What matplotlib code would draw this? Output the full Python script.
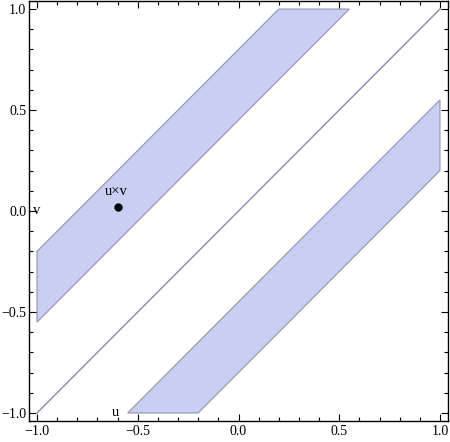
import matplotlib
matplotlib.use("Agg")
import matplotlib.pyplot as plt
import numpy as np

# Data
band1_x = [-1.0, 0.2, 0.55, -1.0]
band1_y = [-0.2, 1.0, 1.0, -0.55]
band2_x = [-0.55, -0.2, 1.0, 1.0]
band2_y = [-1.0, -1.0, 0.2, 0.55]
diag_x = [-1.0, 1.0]
diag_y = [-1.0, 1.0]
point_x = [-0.6]
point_y = [0.02]
major_ticks = [-1.0, -0.5, 0.0, 0.5, 1.0]
tick_labels = ["\u22121.0", "\u22120.5", "0.0", "0.5", "1.0"]
minor_ticks = list(np.round(np.arange(-1.0, 1.01, 0.1), 2))

plt.rcParams['font.family'] = ['Liberation Serif', 'DejaVu Serif']

fig = plt.figure(figsize=(4.5, 4.42), dpi=100)
ax = fig.add_axes([29/450, 21/442, 419/450, 420/442])

fill_c = '#c9cff3'
edge_c = '#9a9ab4'
ax.fill(band1_x, band1_y, facecolor=fill_c, edgecolor=edge_c, linewidth=0.9)
ax.fill(band2_x, band2_y, facecolor=fill_c, edgecolor=edge_c, linewidth=0.9)
ax.plot(diag_x, diag_y, color='#7e7ea6', linewidth=0.9)
ax.plot(point_x, point_y, 'o', color='black', markersize=5)
ax.text(point_x[0] - 0.005, point_y[0] + 0.045, "u\u00d7v", ha='center', va='bottom', fontsize=10.5)
ax.text(-1.02, 0.0, "v", ha='left', va='center', fontsize=10.5)
ax.text(-0.595, -1.0, "u", ha='right', va='center', fontsize=10.5)

pad = 0.04
ax.set_xlim(-1 - pad, 1 + pad)
ax.set_ylim(-1 - pad, 1 + pad)

ax.set_xticks(major_ticks)
ax.set_xticklabels(tick_labels)
ax.set_yticks(major_ticks)
ax.set_yticklabels(tick_labels)
ax.set_xticks(minor_ticks, minor=True)
ax.set_yticks(minor_ticks, minor=True)
ax.tick_params(which='both', direction='in', top=True, right=True,
               labelsize=10, width=0.8, color='black')
ax.tick_params(axis='x', which='major', length=5, pad=3)
ax.tick_params(axis='y', which='major', length=5, pad=2)
ax.tick_params(which='minor', length=3)
for s in ax.spines.values():
    s.set_linewidth(1.0)

fig.savefig("out.png", dpi=100)
